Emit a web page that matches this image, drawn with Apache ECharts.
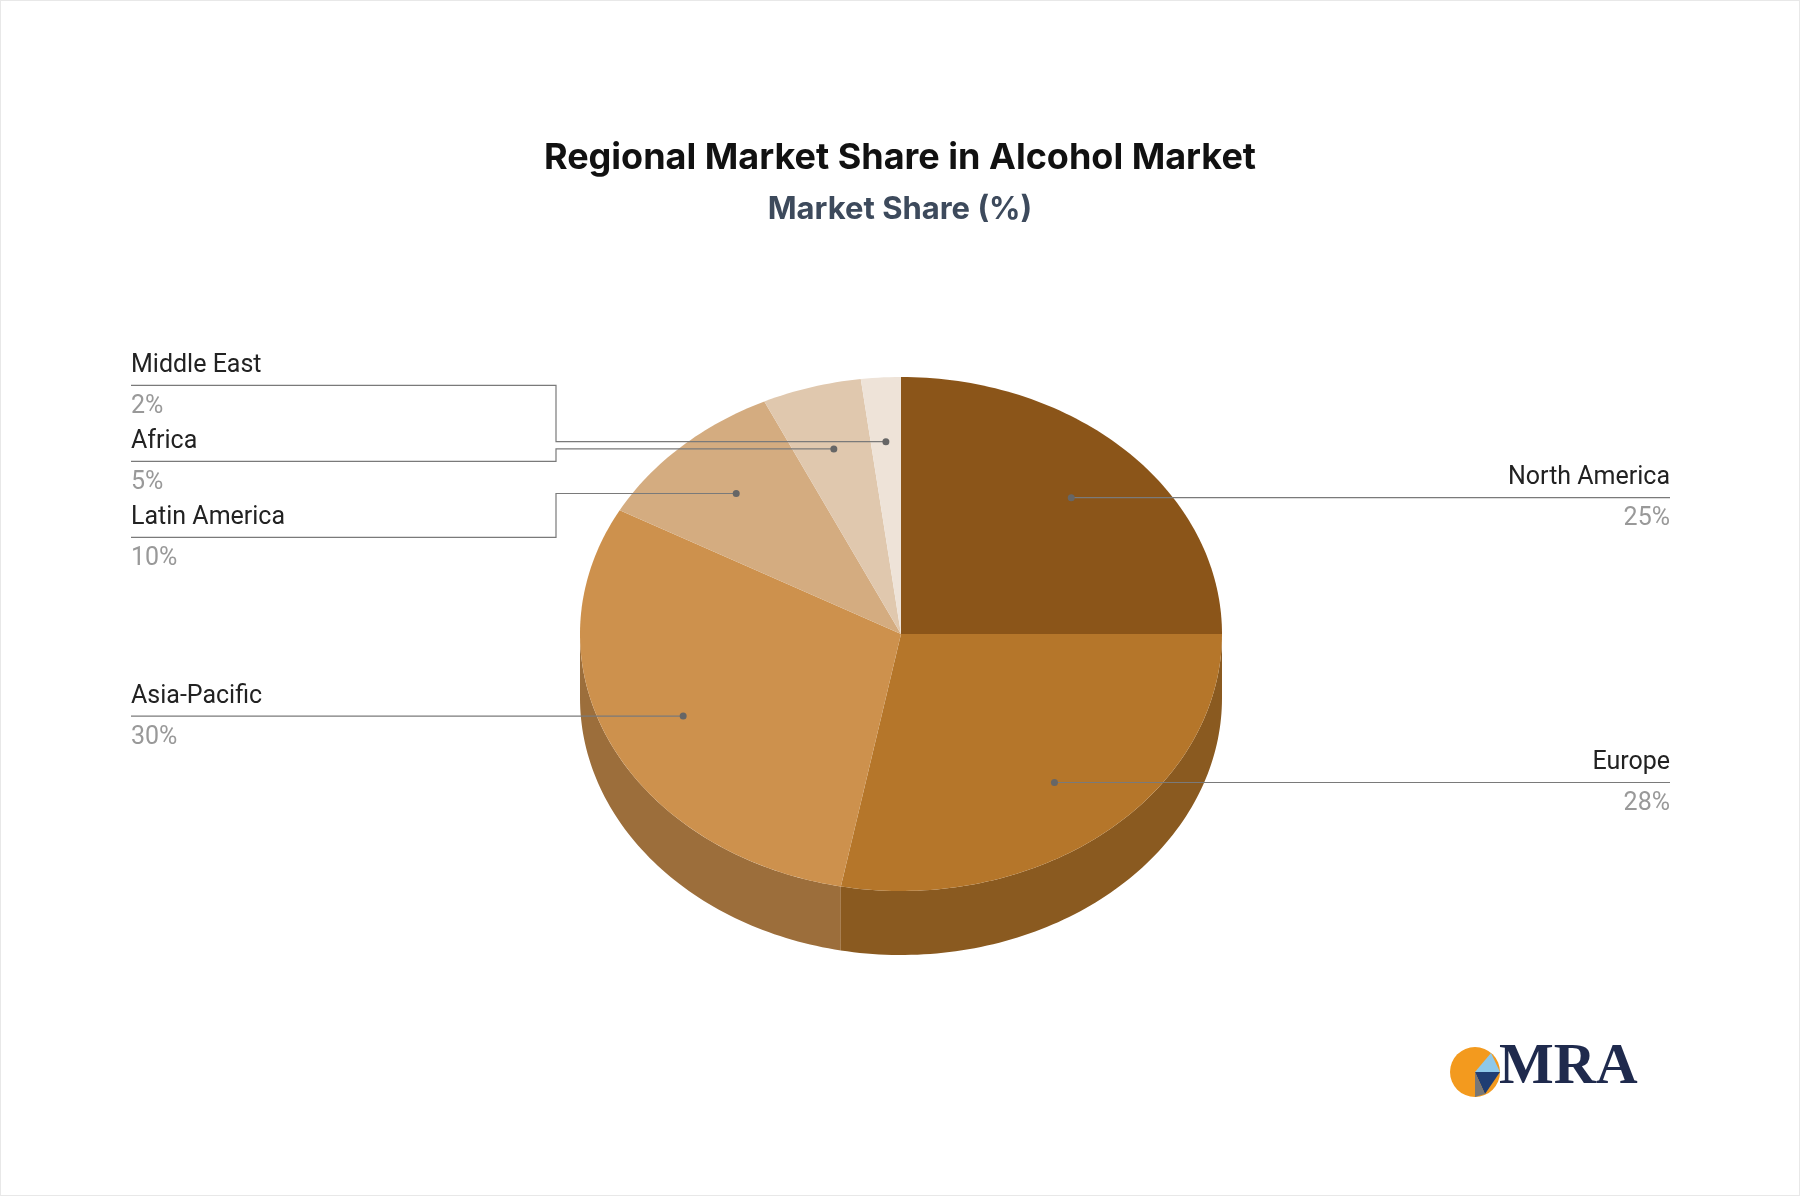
<!DOCTYPE html>
<html>
<head>
<meta charset="utf-8">
<script src="https://cdn.jsdelivr.net/npm/echarts@6/dist/echarts.min.js"></script>
<style>
  html, body { margin: 0; padding: 0; background: #fff; }
  .main { width: 1800px; height: 1196px; box-sizing: border-box; border: 1px solid #e8e8e8; }
</style>
</head>
<body>
<div class="main"></div>
<script>
const regions = ['North America', 'Europe', 'Asia-Pacific', 'Latin America', 'Africa', 'Middle East'];
const shares = [25, 28, 30, 10, 5, 2];
const colors = ['#8B5519', '#B5762A', '#CD914D', '#D4AC80', '#E0C8AE', '#EEE3D8'];

const total = shares.reduce((a, b) => a + b, 0);
const chart = echarts.init(document.querySelector('.main'));

// geometry of the tilted pie, in px of the 1800 wide canvas
const cx = 900, cy = 633, rx = 321, ry = 257, depth = 64;
const leftX = 130, rightX = 1669, gap = 76;

function pt(t, dy) {
  return [cx + rx * Math.sin(t), cy - ry * Math.cos(t) + (dy || 0)];
}

function arc(a0, a1, dy) {
  const pts = [];
  const n = Math.max(2, Math.ceil((a1 - a0) / 0.02));
  for (let i = 0; i <= n; i++) pts.push(pt(a0 + (a1 - a0) * i / n, dy));
  return pts;
}

function darken(hex, k) {
  const n = parseInt(hex.slice(1), 16);
  const c = [(n >> 16) & 255, (n >> 8) & 255, n & 255].map(v => Math.round(v * k));
  return 'rgb(' + c.join(',') + ')';
}

// slice angles and label layout
let acc = 0;
const slices = shares.map((v, i) => {
  const a0 = acc / total * Math.PI * 2;
  acc += v;
  const a1 = acc / total * Math.PI * 2;
  const mid = (a0 + a1) / 2;
  const anchor = [cx + 0.75 * rx * Math.sin(mid), cy - 0.75 * ry * Math.cos(mid)];
  return { i, a0, a1, anchor, left: Math.sin(mid) < 0, lineY: anchor[1] };
});

function spread(list) {
  list.sort((a, b) => a.anchor[1] - b.anchor[1]);
  let groups = list.map(s => [s]);
  let changed = true;
  const place = g => {
    const mean = g.reduce((m, s) => m + s.anchor[1], 0) / g.length;
    g.forEach((s, k) => { s.lineY = mean + (k - (g.length - 1) / 2) * gap; });
  };
  groups.forEach(place);
  while (changed) {
    changed = false;
    for (let k = 0; k < groups.length - 1; k++) {
      const a = groups[k], b = groups[k + 1];
      if (b[0].lineY - a[a.length - 1].lineY < gap) {
        groups.splice(k, 2, a.concat(b));
        place(groups[k]);
        changed = true;
        break;
      }
    }
  }
}
spread(slices.filter(s => s.left));
spread(slices.filter(s => !s.left));

function renderItem(params, api) {
  const s = slices[params.dataIndex];
  const color = colors[s.i];
  const children = [];
  const b0 = Math.max(s.a0, Math.PI / 2), b1 = Math.min(s.a1, Math.PI * 1.5);
  if (b1 > b0) {
    const side = arc(b0, b1, 0).concat(arc(b0, b1, depth).reverse());
    children.push({ type: 'polygon', z2: 1, shape: { points: side },
      style: { fill: darken(color, 0.76), stroke: 'none' } });
  }
  const top = [[cx, cy]].concat(arc(s.a0, s.a1, 0));
  children.push({ type: 'polygon', z2: 10, shape: { points: top }, style: { fill: color } });

  // leader line
  const endX = s.left ? leftX : rightX;
  const elbowX = s.left ? 555 : 1245;
  const pts = Math.abs(s.lineY - s.anchor[1]) < 2
    ? [s.anchor, [endX, s.anchor[1]]]
    : [s.anchor, [elbowX, s.anchor[1]], [elbowX, s.lineY], [endX, s.lineY]];
  const ly = pts[pts.length - 1][1];
  children.push({ type: 'polyline', z2: 20, shape: { points: pts },
    style: { stroke: '#7a7a7a', lineWidth: 1.2, fill: 'none' } });
  children.push({ type: 'circle', z2: 21, shape: { cx: s.anchor[0], cy: s.anchor[1], r: 3.5 },
    style: { fill: '#666' } });
  const align = s.left ? 'left' : 'right';
  children.push({ type: 'text', z2: 22, style: { x: endX, y: ly - 7, text: regions[s.i],
    fill: '#222', font: '25px Roboto, sans-serif', align, verticalAlign: 'bottom' } });
  children.push({ type: 'text', z2: 22, style: { x: endX, y: ly + 9, text: shares[s.i] + '%',
    fill: '#999', font: '25px Roboto, sans-serif', align, verticalAlign: 'top' } });
  return { type: 'group', children };
}

const option = {
  animation: false,
  title: {
    text: 'Regional Market Share in Alcohol Market',
    subtext: 'Market Share (%)',
    left: 'center',
    top: 134,
    itemGap: 18,
    textStyle: { fontFamily: 'Inter, Roboto, sans-serif', fontSize: 36, fontWeight: 'bold', color: '#111' },
    subtextStyle: { fontFamily: 'Inter, Roboto, sans-serif', fontSize: 31, fontWeight: 'bold', color: '#3d4a5c' }
  },
  series: [{
    type: 'custom',
    coordinateSystem: 'none',
    renderItem,
    data: shares.map((v, i) => [i, v])
  }],
  graphic: [
    { type: 'circle', shape: { cx: 1474, cy: 1071, r: 25 }, style: { fill: '#F39A1E' } },
    { type: 'polygon', shape: { points: [[1474, 1071], [1499, 1071], [1490, 1052]] }, style: { fill: '#8EC8EA' } },
    { type: 'polygon', shape: { points: [[1474, 1071], [1499, 1071], [1484, 1093]] }, style: { fill: '#1F3D73' } },
    { type: 'polygon', shape: { points: [[1474, 1071], [1484, 1093], [1474, 1096]] }, style: { fill: '#777' } },
    { type: 'text', left: 1498, top: 1038, style: { text: 'MRA', fill: '#1F2A4D',
      font: 'bold 58px "Liberation Serif", serif' } }
  ]
};

chart.setOption(option);
</script>
</body>
</html>
